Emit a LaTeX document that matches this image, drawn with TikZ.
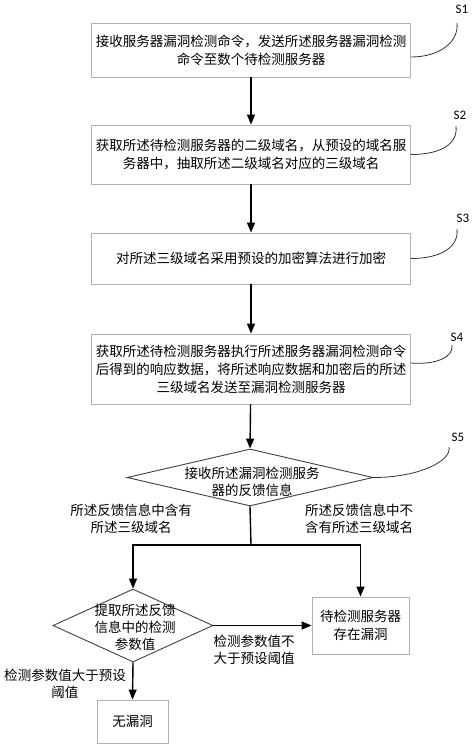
\documentclass[tikz,border=0pt]{standalone}
\usepackage{fontspec}
\newfontfamily\cjk{Noto Sans CJK SC}
\newfontfamily\lab{Carlito}
\usetikzlibrary{shapes.geometric,arrows.meta}
\tikzset{
	stepbox/.style={draw=gray!60,line width=0.9pt,minimum width=319pt,align=center,inner sep=0pt,font=\cjk\fontsize{13.5}{18}\selectfont},
	decision/.style={diamond,draw=black!75,line width=0.9pt,inner sep=0pt},
	txt/.style={align=center,inner sep=0pt,font=\cjk\fontsize{13.5}{17}\selectfont},
	flow/.style={line width=1.4pt,-{Triangle[length=10pt,width=8pt]}},
	callout/.style={draw=black!80,line width=0.8pt},
	steplabel/.style={inner sep=0pt,font=\lab\fontsize{13}{13}\selectfont}
}
\begin{document}
\begin{tikzpicture}[x=1pt,y=-1pt]
			\useasboundingbox (0,0) rectangle (474,751);
			% steps
			\node[stepbox,minimum height=54pt] (s1) at (251,50) {接收服务器漏洞检测命令，发送所述服务器漏洞检测\\命令至数个待检测服务器};
			\node[stepbox,minimum height=59pt] (s2) at (251,154.5) {获取所述待检测服务器的二级域名，从预设的域名服\\务器中，抽取所述二级域名对应的三级域名};
			\node[stepbox,minimum height=51pt] (s3) at (251,258.5) {对所述三级域名采用预设的加密算法进行加密};
			\node[stepbox,minimum height=70pt] (s4) at (251,369) {获取所述待检测服务器执行所述服务器漏洞检测命令\\后得到的响应数据，将所述响应数据和加密后的所述\\三级域名发送至漏洞检测服务器};
			\node[decision,minimum width=246pt,minimum height=57pt] (s5) at (250,477.5) {};
			\node[txt] (t5) at (252,482) {接收所述漏洞检测服务\\器的反馈信息};
			\coordinate (br) at (251,545);
			\node[decision,minimum width=160pt,minimum height=73pt] (d2) at (133,625.5) {};
			\node[txt] (t6) at (135,627) {提取所述反馈\\信息中的检测\\参数值};
			\node[stepbox,minimum width=97pt,minimum height=57pt] (yes) at (360.5,625.5) {待检测服务器\\存在漏洞};
			\node[stepbox,minimum width=71pt,minimum height=43pt] (no) at (132.5,721.5) {无漏洞};
			% branch texts
			\node[txt] (c1) at (131,519) {所述反馈信息中含有\\所述三级域名};
			\node[txt] (c2) at (359,519) {所述反馈信息中不\\含有所述三级域名};
			\node[txt] (c3) at (254,650) {检测参数值不\\大于预设阈值};
			\node[txt] (c4) at (65,684) {检测参数值大于预设\\阈值};
			% step numbers
			\node[steplabel] (l1) at (462,9) {S1};
			\node[steplabel] (l2) at (460,115) {S2};
			\node[steplabel] (l3) at (463,218) {S3};
			\node[steplabel] (l4) at (457,337) {S4};
			\node[steplabel] (l5) at (458,437) {S5};
			\draw[flow] (s1) -- (s2);
			\draw[flow] (s2) -- (s3);
			\draw[flow] (s3) -- (s4);
			\draw[flow] (s4) -- (s5.north);
			\draw[line width=1.4pt] (s5.south) -- (br);
			\draw[flow] (br) -| (d2.north);
			\draw[flow] (br) -| (yes.north);
			\draw[flow] (d2.east) -- (yes.west);
			\draw[flow] (d2.south) -- (no.north);
			\draw[callout] ([yshift=-7pt]s1.east) .. controls +(30,0) and +(2,18) .. ([xshift=-5pt,yshift=-14pt]l1.center);
			\draw[callout] (s2.east) .. controls +(30,0) and +(2,18) .. ([xshift=-4pt,yshift=-11pt]l2.center);
			\draw[callout] (s3.east) .. controls +(30,0) and +(2,18) .. ([xshift=-6pt,yshift=-11pt]l3.center);
			\draw[callout] ([yshift=6pt]s4.east) .. controls +(25,2) and +(2,12) .. ([xshift=-5pt,yshift=-8pt]l4.center);
			\draw[callout] (s5.east) .. controls +(45,0) and +(3,14) .. ([xshift=-9pt,yshift=-10pt]l5.center);
	\end{tikzpicture}
\end{document}
